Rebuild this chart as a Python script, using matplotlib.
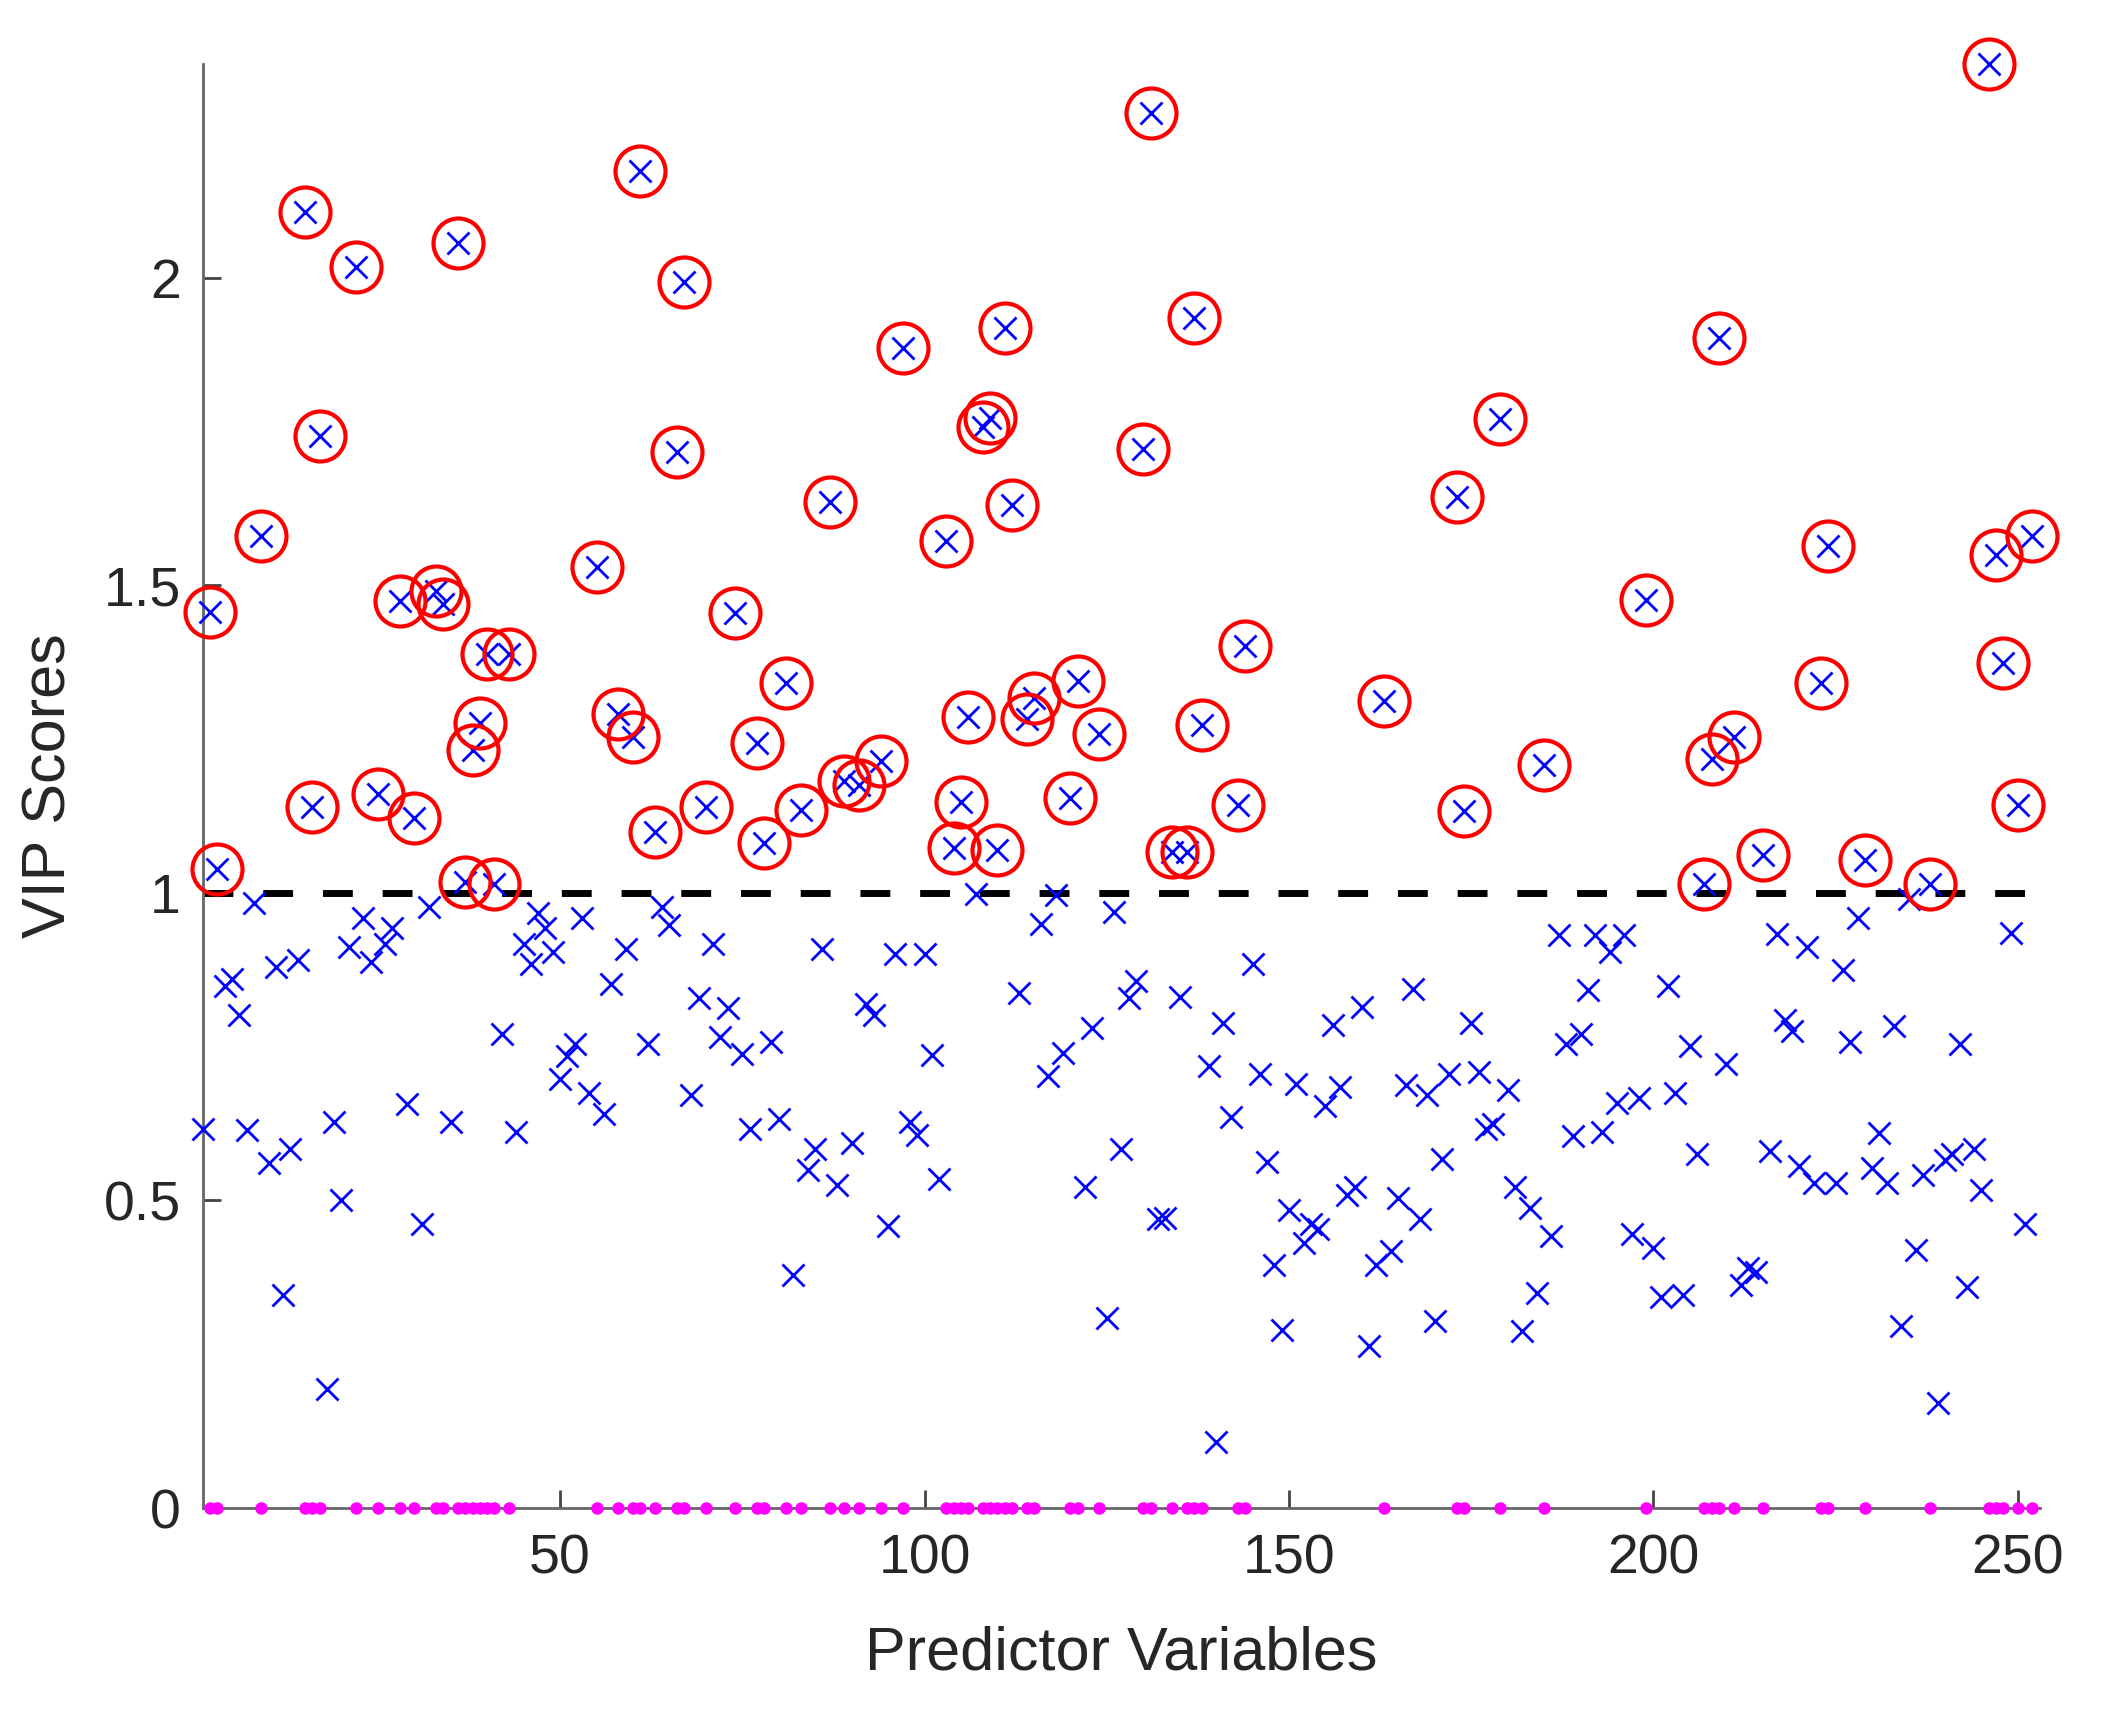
import numpy as np
import matplotlib
matplotlib.use("Agg")
import matplotlib.pyplot as plt

plt.rcParams['font.family'] = ['Liberation Sans', 'DejaVu Sans']

# VIP score per predictor variable (1..252)
vip = np.array([
    0.616, 1.456, 1.039, 0.848, 0.860, 0.801, 0.614, 0.983, 1.580, 0.560,
    0.880, 0.346, 0.584, 0.890, 2.106, 1.140, 1.743, 0.193, 0.627, 0.501,
    0.912, 2.017, 0.959, 0.888, 1.160, 0.916, 0.943, 1.474, 0.657, 1.122,
    0.462, 0.977, 1.490, 1.470, 0.627, 2.057, 1.018, 1.232, 1.276, 1.388,
    1.014, 0.770, 1.388, 0.612, 0.916, 0.884, 0.967, 0.943, 0.904, 0.698,
    0.734, 0.754, 0.959, 0.675, 1.529, 0.641, 0.852, 1.290, 0.908, 1.254,
    2.173, 0.754, 1.099, 0.977, 0.947, 1.717, 1.992, 0.671, 0.829, 1.140,
    0.916, 0.766, 0.813, 1.454, 0.738, 0.616, 1.243, 1.081, 0.758, 0.633,
    1.341, 0.379, 1.135, 0.549, 0.584, 0.908, 1.635, 0.525, 1.181, 0.594,
    1.175, 0.819, 0.801, 1.215, 0.459, 0.901, 1.886, 0.627, 0.606, 0.901,
    0.736, 0.535, 1.572, 1.073, 1.148, 1.286, 0.998, 1.757, 1.772, 1.069,
    1.918, 1.631, 0.837, 1.282, 1.317, 0.949, 0.702, 0.996, 0.740, 1.154,
    1.345, 0.522, 0.781, 1.258, 0.309, 0.969, 0.584, 0.829, 0.856, 1.721,
    2.268, 0.470, 0.472, 1.067, 0.831, 1.066, 1.935, 1.272, 0.718, 0.107,
    0.789, 0.635, 1.143, 1.401, 0.884, 0.705, 0.563, 0.395, 0.290, 0.484,
    0.689, 0.430, 0.462, 0.454, 0.654, 0.785, 0.685, 0.509, 0.522, 0.815,
    0.264, 0.395, 1.311, 0.418, 0.504, 0.687, 0.843, 0.470, 0.671, 0.304,
    0.568, 0.706, 1.643, 1.133, 0.789, 0.708, 0.616, 0.624, 1.770, 0.679,
    0.521, 0.288, 0.488, 0.349, 1.207, 0.442, 0.931, 0.754, 0.604, 0.770,
    0.842, 0.931, 0.612, 0.904, 0.659, 0.931, 0.446, 0.667, 1.476, 0.422,
    0.343, 0.848, 0.675, 0.347, 0.751, 0.575, 1.014, 1.217, 1.902, 0.722,
    1.253, 0.363, 0.390, 0.383, 1.062, 0.580, 0.933, 0.793, 0.775, 0.556,
    0.912, 0.529, 1.341, 1.564, 0.529, 0.874, 0.758, 0.959, 1.054, 0.552,
    0.609, 0.529, 0.783, 0.296, 0.990, 0.420, 0.541, 1.014, 0.170, 0.565,
    0.575, 0.754, 0.359, 0.584, 0.517, 2.347, 1.549, 1.374, 0.935, 1.143,
    0.462, 1.580,
])
threshold = 1.0
x_ticks = [50, 100, 150, 200, 250]
y_ticks = [0, 0.5, 1, 1.5, 2]
y_ticklabels = ['0', '0.5', '1', '1.5', '2']

idx = np.arange(1, len(vip) + 1)
sel = vip > threshold

fig = plt.figure(figsize=(21.07, 17.09), dpi=100)
ax = fig.add_axes([0.0963, 0.1176, 0.8718, 0.8449])

ax.plot(idx, vip, 'x', color='b', ms=16, mew=2, clip_on=False, zorder=3)
ax.plot(idx[sel], vip[sel], 'o', mfc='none', mec='r', ms=36, mew=3,
        clip_on=False, zorder=4)
ax.plot(idx[sel], np.zeros(sel.sum()), 'o', color='#ff00ff', ms=8,
        clip_on=False, zorder=5)
ax.plot([idx[0], idx[-1]], [threshold, threshold], '--', color='k', lw=5,
        dashes=(4.3, 4.3), zorder=2)

ax.set_xlim(1, 253)
ax.set_ylim(0, vip.max())
ax.set_xticks(x_ticks)
ax.set_yticks(y_ticks)
ax.set_yticklabels(y_ticklabels)

for s in ['top', 'right']:
    ax.spines[s].set_visible(False)
for s in ['left', 'bottom']:
    ax.spines[s].set_color('#666666')
    ax.spines[s].set_linewidth(2)

ax.tick_params(direction='in', length=13, width=2, color='#444444',
               labelsize=40, labelcolor='#262626')
ax.tick_params(axis='x', pad=18)
ax.tick_params(axis='y', pad=16)

ax.set_xlabel('Predictor Variables', fontsize=44, color='#262626', va='center')
ax.set_ylabel('VIP Scores', fontsize=44, color='#262626', va='center')
ax.xaxis.set_label_coords(0.5, -0.101)
ax.yaxis.set_label_coords(-0.083, 0.5)

fig.savefig('out.png', dpi=100, facecolor='white')
